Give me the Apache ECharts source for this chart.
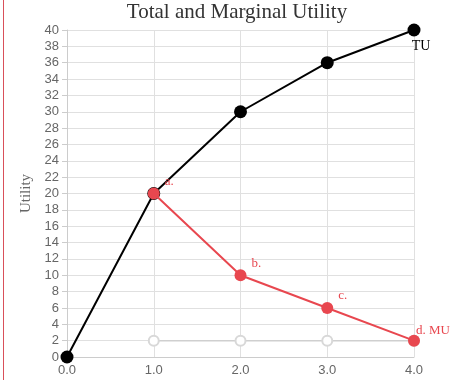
<!DOCTYPE html>
<html><head><meta charset="utf-8">
<script src="https://cdn.jsdelivr.net/npm/echarts@6/dist/echarts.min.js"></script>
<style>html,body{margin:0;padding:0;background:#fff}#c{width:474px;height:380px}</style>
</head><body><div id="c"></div>
<script>
var xTicks = [0, 1, 2, 3, 4];
var tuX = [0, 1, 2, 3, 4];
var tuY = [0, 20, 30, 36, 40];
var muX = [1, 2, 3, 4];
var muY = [20, 10, 6, 2];
var muLabels = ['a.', 'b.', 'c.', 'd. MU'];
var refX = [1, 2, 3, 4];
var refY = [2, 2, 2, 2];

var chart = echarts.init(document.getElementById('c'));
function zip(a, b) { return a.map(function (v, i) { return [v, b[i]]; }); }
var muData = muX.map(function (x, i) {
  var d = { value: [x, muY[i]], label: { show: true, formatter: muLabels[i] } };
  if (i === muX.length - 1) { d.label.position = 'top'; d.label.offset = [19, 7]; }
  else { d.label.position = 'right'; d.label.offset = [0, -12]; }
  return d;
});
var tuData = tuX.map(function (x, i) {
  var d = { value: [x, tuY[i]] };
  if (i === tuX.length - 1) d.label = { show: true, formatter: 'TU', position: 'bottom', offset: [7, -2] };
  return d;
});
chart.setOption({
  animation: false,
  title: { text: 'Total and Marginal Utility', left: 'center', top: -3,
    textStyle: { fontFamily: 'Liberation Serif', fontWeight: 'normal', fontSize: 21, color: '#333' } },
  grid: { left: 67, right: 60, top: 30, bottom: 23 },
  xAxis: { type: 'value', min: 0, max: 4, interval: 1,
    axisLine: { lineStyle: { color: '#ccc' } },
    axisTick: { show: false },
    splitLine: { show: true, lineStyle: { color: '#e0e0e0' } },
    axisLabel: { color: '#666', fontFamily: 'Liberation Sans', fontSize: 13, margin: 7,
      formatter: function (v) { return v.toFixed(1); } } },
  yAxis: { type: 'value', min: 0, max: 40, interval: 2,
    name: 'Utility', nameLocation: 'middle', nameGap: 22,
    nameTextStyle: { fontFamily: 'Liberation Serif', fontSize: 15, color: '#666' },
    axisLine: { show: true, lineStyle: { color: '#ccc' } },
    axisTick: { show: true, length: 5, lineStyle: { color: '#ccc' } },
    splitLine: { show: true, lineStyle: { color: '#e0e0e0' } },
    axisLabel: { color: '#666', fontFamily: 'Liberation Sans', fontSize: 13, margin: 8 } },
  series: [
    { type: 'line', data: zip(refX, refY), symbol: 'emptyCircle', symbolSize: 10,
      lineStyle: { color: '#cfcfcf', width: 1.5 }, itemStyle: { color: '#d8d8d8', borderWidth: 1 }, z: 1 },
    { type: 'line', data: tuData, symbol: 'circle', symbolSize: 13,
      lineStyle: { color: '#000', width: 2 }, itemStyle: { color: '#000' },
      label: { fontFamily: 'Liberation Serif', fontSize: 14, color: '#000' }, z: 2 },
    { type: 'line', data: muData, symbol: 'circle', symbolSize: 12,
      lineStyle: { color: '#e8474f', width: 2 }, itemStyle: { color: '#e8474f' },
      label: { fontFamily: 'Liberation Serif', fontSize: 13, color: '#e8474f' }, z: 3 }
  ],
  graphic: [{ type: 'line', shape: { x1: 3.5, y1: 0, x2: 3.5, y2: 380 }, style: { stroke: '#d9505a', lineWidth: 1 } }]
});
</script></body></html>
